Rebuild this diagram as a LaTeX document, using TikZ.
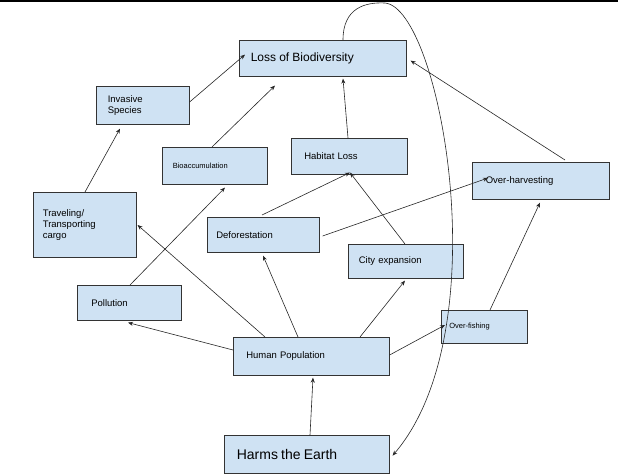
\documentclass[tikz,border=0pt]{standalone}
\usepackage{fontspec}
\setmainfont{Liberation Sans}
\usetikzlibrary{arrows.meta}
\begin{document}
\begin{tikzpicture}[x=1pt,y=-1pt,
  box/.style={draw=black!80,fill=blueboxc,line width=0.6pt,inner sep=0pt,align=left,anchor=north west,font=\fontsize{9.5}{11}\selectfont},
  ar/.style={-{Stealth[length=5pt,width=4pt]},line width=0.6pt,black!85}]
\definecolor{blueboxc}{HTML}{CFE2F3}
\useasboundingbox (0,0) rectangle (618,476);
\fill[black] (0,0) rectangle (618,2.5);
\node[box,minimum width=167,minimum height=36,text width=160] (loss) at (239,40) {\hspace*{8pt}\fontsize{12}{14}\selectfont Loss of Biodiversity};
\node[box,minimum width=93,minimum height=38,text width=88] (inv) at (96,86) {\hspace*{9pt}Invasive\\\hspace*{9pt}Species};
\node[box,minimum width=105,minimum height=37,text width=100,font=\fontsize{7.5}{9}\selectfont] (bio) at (162,147) {\hspace*{8pt}Bioaccumulation};
\node[box,minimum width=116,minimum height=36,text width=110] (hab) at (291,138) {\hspace*{10pt}Habitat Loss};
\node[box,minimum width=137,minimum height=37,text width=130] (over) at (472,162) {\hspace*{10pt}Over-harvesting};
\node[box,minimum width=103,minimum height=65,text width=100] (trav) at (33,192) {\hspace*{8pt}Traveling/\\\hspace*{8pt}Transporting\\\hspace*{8pt}cargo};
\node[box,minimum width=112,minimum height=35,text width=108] (def) at (207,217) {\hspace*{7pt}Deforestation};
\node[box,minimum width=115,minimum height=34,text width=110] (city) at (348,244) {\hspace*{8pt}City expansion};
\node[box,minimum width=104,minimum height=35,text width=100] (pol) at (77,285) {\hspace*{12pt}Pollution};
\node[box,minimum width=86,minimum height=33,text width=82,font=\fontsize{7.5}{9}\selectfont] (fish) at (441,310) {\hspace*{6pt}Over-fishing};
\node[box,minimum width=156,minimum height=38,text width=150] (hum) at (233,337) {\hspace*{10pt}Human Population};
\node[box,minimum width=165,minimum height=38,text width=160] (harm) at (224,435) {\hspace*{10pt}\fontsize{14}{16}\selectfont Harms the Earth};
\draw[ar] ([yshift=-16pt]inv.north east) -- ([xshift=6pt,yshift=22pt]loss.south west);
\draw[ar] ([xshift=52pt]trav.north west) -- ([xshift=24pt,yshift=-4pt]inv.south west);
\draw[ar] ([xshift=50pt]bio.north west) -- ([xshift=36pt,yshift=-9pt]loss.south west);
\draw[ar] ([xshift=53pt]pol.north west) -- ([xshift=63pt,yshift=-3pt]bio.south west);
\draw[ar] ([xshift=57pt]hab.north west) -- ([xshift=104pt,yshift=-2pt]loss.south west);
\draw[ar] ([xshift=93pt,yshift=2pt]over.north west) -- ([yshift=16pt,xshift=4pt]loss.south east);
\draw[ar] ([xshift=55pt,yshift=2pt]def.north west) -- ([xshift=59pt,yshift=2pt]hab.south west);
\draw[ar] ([xshift=57pt]city.north west) -- ([xshift=59pt,yshift=2pt]hab.south west);
\draw[ar] ([xshift=3pt,yshift=-19pt]def.north east) -- ([xshift=16pt,yshift=-16pt]over.north west);
\draw[ar] ([xshift=49pt]fish.north west) -- ([xshift=68pt,yshift=-3pt]over.south west);
\draw[ar] ([xshift=32pt]hum.north west) -- ([yshift=-33pt,xshift=1pt]trav.north east);
\draw[ar] ([xshift=65pt]hum.north west) -- ([xshift=56pt,yshift=-3pt]def.south west);
\draw[ar] ([xshift=127pt]hum.north west) -- ([xshift=57pt,yshift=-2pt]city.south west);
\draw[ar] ([yshift=-13pt]hum.north west) -- ([xshift=51pt,yshift=-2pt]pol.south west);
\draw[ar] ([yshift=-18pt]hum.north east) -- ([yshift=-15pt,xshift=4pt]fish.north west);
\draw[ar] ([xshift=86pt]harm.north west) -- ([xshift=80pt,yshift=-2pt]hum.south west);
\draw[ar] ([xshift=104pt]loss.north west) .. controls (343,8) and (365,2) .. (385,3)
  .. controls (440,8) and (500,330) .. ([yshift=18pt,xshift=3pt]harm.south east);
\end{tikzpicture}
\end{document}
